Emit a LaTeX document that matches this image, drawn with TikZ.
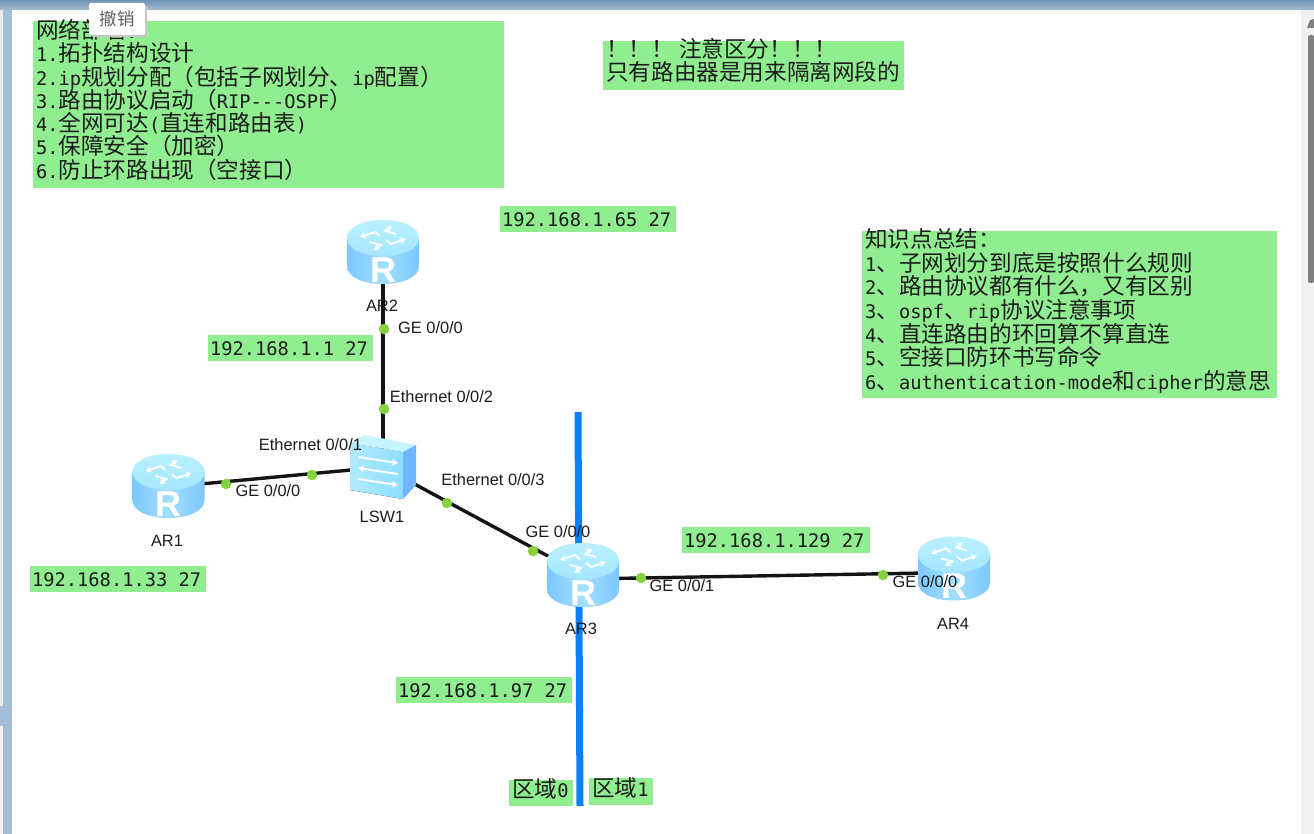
\documentclass[tikz,border=0pt]{standalone}
\usepackage{fontspec}
\setmainfont{Noto Sans CJK SC}
\newfontfamily\mono{DejaVu Sans Mono}
\newfontfamily\arial{Liberation Sans}
\usetikzlibrary{arrows.meta}
\definecolor{notegreen}{HTML}{90EE90}
\definecolor{chromeblue}{HTML}{A3BED8}
\definecolor{chrometop}{HTML}{6F93B3}
\definecolor{chromelow}{HTML}{A6BCD2}
\definecolor{areablue}{HTML}{0A80FF}
\definecolor{dotgreen}{HTML}{86D23C}
\definecolor{inktext}{HTML}{1C1C1C}
\definecolor{routeredge}{HTML}{7CC8FF}
\definecolor{routermid}{HTML}{A4DFFF}
\definecolor{routertop}{HTML}{BDF2FF}
\definecolor{routertoplow}{HTML}{A2E4FF}
\definecolor{switchfront}{HTML}{AEEBFF}
\definecolor{switchfrontb}{HTML}{8FDDFF}
\definecolor{switchtop}{HTML}{C8F4FF}
\definecolor{switchside}{HTML}{6FB6FF}
\newcommand{\mm}[1]{{\mono\fontsize{18.7}{20}\selectfont #1}}
\tikzset{
  noteback/.style n args={2}{fill=notegreen, anchor=north west, inner sep=0pt,
     minimum width=#1pt, minimum height=#2pt},
  notetext/.style n args={2}{anchor=north west, inner sep=0pt, text width=#1pt, align=flush left,
     text=inktext, font=\fontsize{22.6}{#2}\selectfont},
  ipbox/.style={fill=notegreen, anchor=north west, inner xsep=2pt, inner ysep=0pt,
     text width=172pt, minimum height=26pt, align=flush left, text=inktext,
     font=\mono\fontsize{18.7}{20}\selectfont},
  devicebox/.style={inner sep=0pt, minimum width=72pt, minimum height=64pt},
  portlabel/.style={font=\arial\fontsize{16.4}{18}\selectfont, text=inktext, inner sep=0pt},
  portdot/.style={circle, fill=dotgreen, inner sep=0pt, minimum size=10.5pt},
  wire/.style={line width=3.4pt, draw=black!92},
  arealine/.style={line width=7pt, draw=areablue},
  topArrow/.style={white, line width=1.9pt, -{Stealth[length=6pt,width=7pt]}},
  routericon/.pic={
    \path[left color=routeredge, right color=routeredge, middle color=routermid]
      (-36,-14) -- (-36,14) .. controls (-36,38) and (36,38) .. (36,14) -- (36,-14) -- cycle;
    \path[top color=routertop, bottom color=routertoplow]
      (-36,-14) .. controls (-36,-38) and (36,-38) .. (36,-14) .. controls (36,10) and (-36,10) .. (-36,-14) -- cycle;
    \draw[topArrow] (-3,-16) -- (-8,-20) -- (-23,-15);
    \draw[topArrow] (3,-12) -- (8,-8) -- (23,-13);
    \draw[topArrow] (-13,-10) -- (-2,-7) -- (-9,-2);
    \draw[topArrow] (13,-18) -- (2,-21) -- (9,-26);
    \node[text=white, inner sep=0pt, font=\arial\bfseries\fontsize{36}{38}\selectfont] at (0,18) {R};
  },
  switchicon/.pic={
    \fill[left color=switchfront, right color=switchfrontb] (-33,-24) -- (20,-15) -- (20,32) -- (-33,23) -- cycle;
    \fill[switchtop] (-33,-24) -- (-18,-32) -- (33,-22) -- (20,-15) -- cycle;
    \fill[switchside] (20,-15) -- (33,-22) -- (33,18) -- (20,32) -- cycle;
    \draw[topArrow] (-25,-10) -- (15,-4);
    \draw[topArrow] (15,7) -- (-25,1);
    \draw[topArrow] (-25,12) -- (15,18);
  }
}
\begin{document}
\begin{tikzpicture}[x=1pt,y=-1pt]
\useasboundingbox (0,0) rectangle (1314,834);
% window frame
\fill[white] (0,0) rectangle (1314,834);
\fill[chromeblue] (0,0) rectangle (12,834);
\fill[black!8] (0,10) rectangle (3,706);
\fill[black!4] (0,726) rectangle (3,834);
\fill[top color=chrometop, bottom color=chromelow] (0,0) rectangle (1314,10);
\fill[black!6] (1301,10) rectangle (1314,834);
\fill[black!50, rounded corners=2pt] (1308,35) rectangle (1314,283);
\fill[black!50] (1307,28) -- (1310,20) -- (1314,19) -- (1314,28) -- cycle;
% area boundary
\coordinate (areatop) at (578,412);
\coordinate (areabottom) at (580,806);
\draw[arealine] (areatop) -- (areabottom);
% device places
\node[devicebox] (AR1) at (168.5,486) {};
\node[devicebox] (AR2) at (383,252) {};
\node[devicebox] (AR3) at (583,575) {};
\node[devicebox] (AR4) at (954,568.5) {};
\node[devicebox] (LSW1) at (383,467) {};
% connectors
\draw[wire] (AR2.center) -- (LSW1.center);
\draw[wire] ([yshift=-1pt]AR1.center) -- (LSW1.center);
\draw[wire] (LSW1.center) -- (AR3.center);
\draw[wire] ([yshift=-4pt]AR3.center) -- ([yshift=-4pt]AR4.center);
% icons
\pic at (AR1) {routericon};
\pic at (AR2) {routericon};
\pic at (AR3) {routericon};
\pic at (AR4) {routericon};
\pic at (LSW1) {switchicon};
% port dots
\node[portdot] (d1) at (384,329) {};
\node[portdot] (d2) at (384,409) {};
\node[portdot] (d3) at (226,484) {};
\node[portdot] (d4) at (312,475) {};
\node[portdot] (d5) at (447,503) {};
\node[portdot] (d6) at (533,551) {};
\node[portdot] (d7) at (641,578) {};
\node[portdot] (d8) at (883,575) {};
% port labels
\node[portlabel] (p1) at (430.5,328) {GE 0/0/0};
\node[portlabel] (p2) at (441.5,397) {Ethernet 0/0/2};
\node[portlabel] (p3) at (310.5,445) {Ethernet 0/0/1};
\node[portlabel] (p4) at (268,491) {GE 0/0/0};
\node[portlabel] (p5) at (493,480) {Ethernet 0/0/3};
\node[portlabel] (p6) at (558,532) {GE 0/0/0};
\node[portlabel] (p7) at (682,586) {GE 0/0/1};
\node[portlabel] (p8) at (925,582) {GE 0/0/0};
% device labels
\node[portlabel] (n1) at (167,541) {AR1};
\node[portlabel] (n2) at (382,306) {AR2};
\node[portlabel] (n3) at (581,629) {AR3};
\node[portlabel] (n4) at (953,624) {AR4};
\node[portlabel] (n5) at (382,517) {LSW1};
% notes
\node[noteback={471}{167}] (plan) at (33,21) {};
\node[notetext={465}{23.3}] (plantext) at ([shift={(3,-2)}]plan.north west) {网络部署：\\
\mm{1.}拓扑结构设计\\
\mm{2.ip}规划分配（包括子网划分、\mm{ip}配置）\\
\mm{3.}路由协议启动（\mm{RIP---OSPF}）\\
\mm{4.}全网可达\mm{(}直连和路由表\mm{)}\\
\mm{5.}保障安全（加密）\\
\mm{6.}防止环路出现（空接口）};
\node[noteback={301}{49}] (warn) at (603,41) {};
\node[notetext={295}{23}] (warntext) at ([shift={(3,-2.5)}]warn.north west) {！！！ 注意区分！！！\\只有路由器是用来隔离网段的};
\node[noteback={415}{167}] (summary) at (862,231) {};
\node[notetext={409}{23.6}] (summarytext) at ([shift={(3,-2.5)}]summary.north west) {知识点总结：\\
\mm{1}、子网划分到底是按照什么规则\\
\mm{2}、路由协议都有什么，又有区别\\
\mm{3}、\mm{ospf}、\mm{rip}协议注意事项\\
\mm{4}、直连路由的环回算不算直连\\
\mm{5}、空接口防环书写命令\\
\mm{6}、\mm{authentication-mode}和\mm{cipher}的意思};
% addresses
\node[ipbox] (ip65) at (500,206) {192.168.1.65 27};
\node[ipbox, text width=161pt] (ip1) at (208,335) {192.168.1.1 27};
\node[ipbox] (ip33) at (30,566) {192.168.1.33 27};
\node[ipbox, text width=184pt] (ip129) at (682,527) {192.168.1.129 27};
\node[ipbox] (ip97) at (396,677) {192.168.1.97 27};
\node[noteback={64}{26}] (area0) at (509,780) {};
\node[notetext={58}{23.6}] (area0text) at ([shift={(3,-2)}]area0.north west) {区域\mm{0}};
\node[noteback={64}{27}] (area1) at (589,778) {};
\node[notetext={58}{23.6}] (area1text) at ([shift={(3,-1)}]area1.north west) {区域\mm{1}};
% tooltip
\fill[black!22, rounded corners=2pt] (91,6) rectangle (147,37);
\node[fill=white, rounded corners=2pt, inner sep=0pt, minimum width=56pt, minimum height=32pt,
      text=black!62, font=\fontsize{17.5}{19}\selectfont] (undo) at (117,19) {撤销};
\end{tikzpicture}
\end{document}
